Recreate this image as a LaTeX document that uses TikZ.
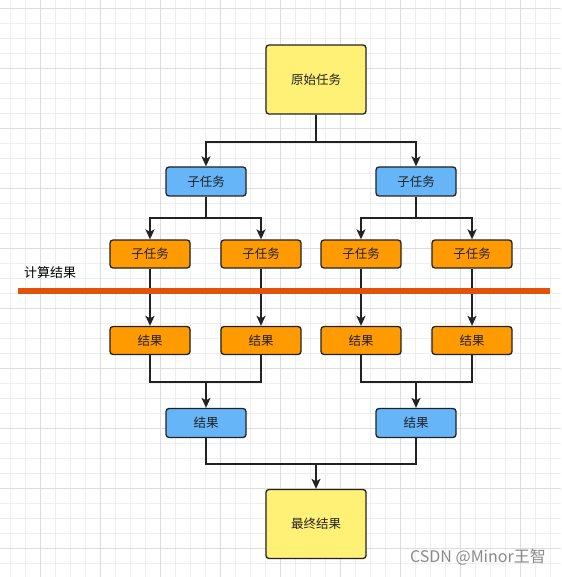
\documentclass[tikz,border=0pt]{standalone}
\usepackage{fontspec}
\newfontfamily\cjk{Noto Sans CJK SC}
\usetikzlibrary{arrows.meta}
\definecolor{gridminor}{HTML}{EEEEEE}
\definecolor{gridmajor}{HTML}{DDDDDD}
\definecolor{yfill}{HTML}{FFF176}
\definecolor{bfill}{HTML}{66B5F8}
\definecolor{ofill}{HTML}{FF9A00}
\definecolor{redline}{HTML}{E2520A}
\definecolor{edge}{HTML}{222222}
\definecolor{wm}{HTML}{8A8A8A}
\tikzset{
  boxbase/.style={draw=edge, line width=1.3pt, rounded corners=3pt, font=\cjk\fontsize{12.5}{14}\selectfont, text=edge, inner sep=0pt},
  bigbox/.style={boxbase, fill=yfill, minimum width=100pt, minimum height=69pt},
  bluebox/.style={boxbase, fill=bfill, minimum width=80pt, minimum height=29pt},
  orbox/.style={boxbase, fill=ofill, minimum width=80pt, minimum height=28pt},
  conn/.style={draw=edge, line width=1.6pt},
  arr/.style={conn, -{Stealth[length=10pt, width=9pt, inset=2.5pt]}}
}
\begin{document}
\begin{tikzpicture}[x=1pt, y=-1pt]
\useasboundingbox (0,0) rectangle (561,577);
\fill[white] (0,0) rectangle (561,577);
% grid
\foreach \i in {0,...,37} {
  \pgfmathsetmacro{\xx}{10+15*\i}
  \draw[gridminor, line width=0.8pt] (\xx,0) -- (\xx,577);
}
\foreach \i in {0,...,38} {
  \pgfmathsetmacro{\yy}{8+15*\i}
  \draw[gridminor, line width=0.8pt] (0,\yy) -- (561,\yy);
}
\foreach \i in {0,...,9} {
  \pgfmathsetmacro{\xx}{40+60*\i}
  \draw[gridmajor, line width=0.8pt] (\xx,0) -- (\xx,577);
}
\foreach \i in {-1,...,8} {
  \pgfmathsetmacro{\yy}{68+60*\i}
  \draw[gridmajor, line width=0.8pt] (0,\yy) -- (561,\yy);
}
% nodes
\node[bigbox] (top) at (316,79.5) {原始任务};
\node[bluebox] (b1) at (206,181.5) {子任务};
\node[bluebox] (b2) at (416,181.5) {子任务};
\node[orbox] (o1) at (150,254) {子任务};
\node[orbox] (o2) at (261,254) {子任务};
\node[orbox] (o3) at (361,254) {子任务};
\node[orbox] (o4) at (472,254) {子任务};
\node[orbox] (r1) at (150,340.5) {结果};
\node[orbox] (r2) at (261,340.5) {结果};
\node[orbox] (r3) at (361,340.5) {结果};
\node[orbox] (r4) at (472,340.5) {结果};
\node[bluebox] (br1) at (206,423) {结果};
\node[bluebox] (br2) at (416,423) {结果};
\node[bigbox] (fin) at (316,524) {最终结果};
% junctions
\coordinate (j0) at (316,142);
\coordinate (j1) at (206,218);
\coordinate (j2) at (416,218);
\coordinate (m1) at (206,382);
\coordinate (m2) at (416,382);
\coordinate (m0) at (316,464);
% split connectors
\draw[conn] (top.south) -- (j0);
\draw[arr] (j0) -| (b1.north);
\draw[arr] (j0) -| (b2.north);
\draw[conn] (b1.south) -- (j1);
\draw[arr] (j1) -| (o1.north);
\draw[arr] (j1) -| (o2.north);
\draw[conn] (b2.south) -- (j2);
\draw[arr] (j2) -| (o3.north);
\draw[arr] (j2) -| (o4.north);
% compute arrows
\draw[arr] (o1.south) -- (r1.north);
\draw[arr] (o2.south) -- (r2.north);
\draw[arr] (o3.south) -- (r3.north);
\draw[arr] (o4.south) -- (r4.north);
% merge connectors
\draw[conn] (r1.south) |- (m1);
\draw[conn] (r2.south) |- (m1);
\draw[arr] (m1) -- (br1.north);
\draw[conn] (r3.south) |- (m2);
\draw[conn] (r4.south) |- (m2);
\draw[arr] (m2) -- (br2.north);
\draw[conn] (br1.south) |- (m0);
\draw[conn] (br2.south) |- (m0);
\draw[arr] (m0) -- (fin.north);
% red separator
\coordinate (rl) at (18,291);
\coordinate (rr) at (550,291);
\draw[redline, line width=6pt] (rl) -- (rr);
\node[anchor=west, inner sep=0pt, font=\cjk\fontsize{13}{15}\selectfont, text=black] (lbl) at (24,273) {计算结果};
% watermark
\node[anchor=east, inner sep=0pt, font=\cjk\fontsize{16}{18}\selectfont, text=wm] (wmk) at (546,557) {CSDN @Minor王智};
\end{tikzpicture}
\end{document}
